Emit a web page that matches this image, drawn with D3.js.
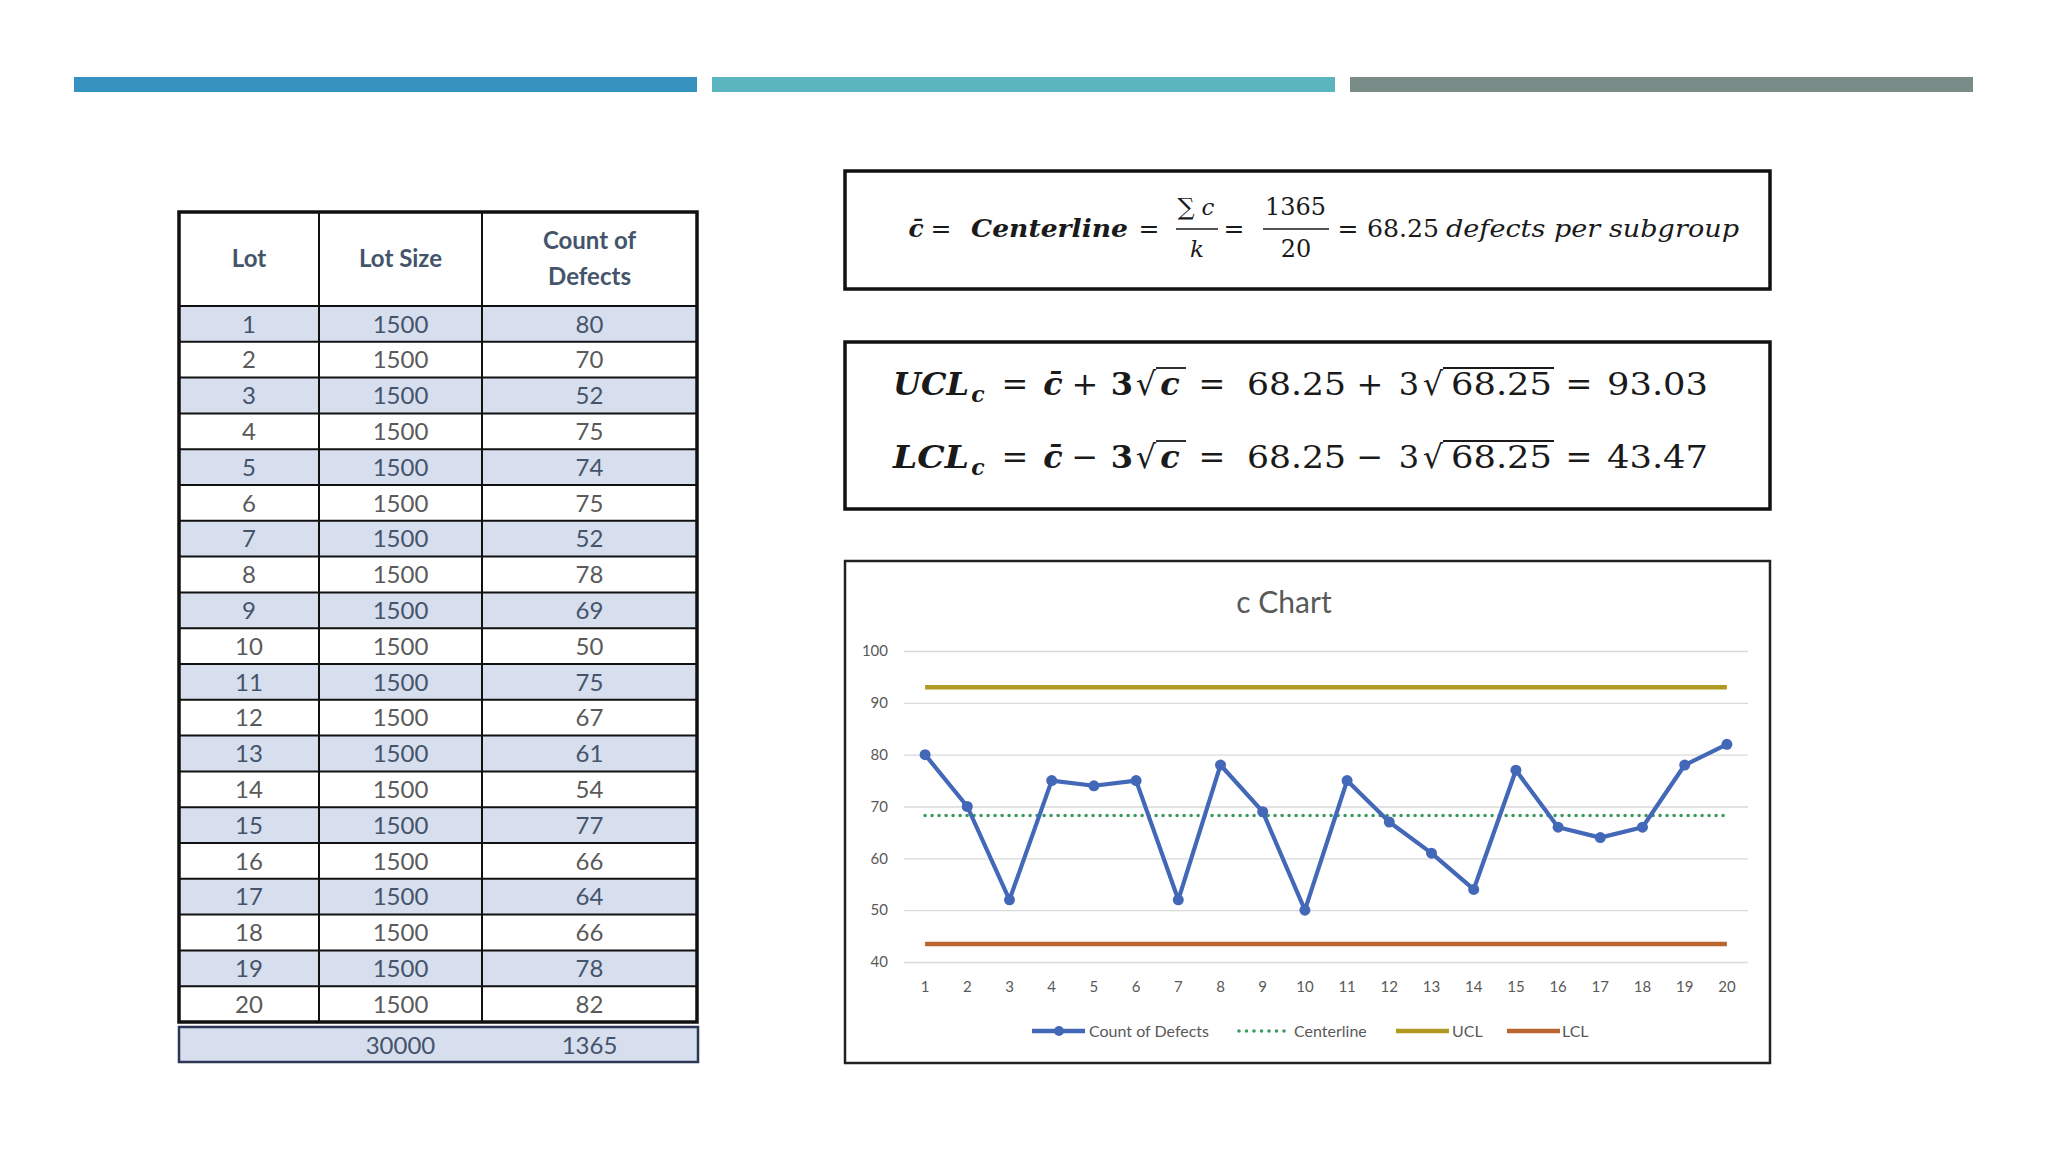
<!DOCTYPE html>
<html>
<head>
<meta charset="utf-8">
<script src="https://cdn.jsdelivr.net/npm/d3@7/dist/d3.min.js"></script>
<style>
body{margin:0;background:#fff;}
svg{display:block;}
</style>
</head>
<body>
<svg id="slide" width="2048" height="1152"></svg>
<script>
// data
var lots = [1,2,3,4,5,6,7,8,9,10,11,12,13,14,15,16,17,18,19,20];
var lotSizes = [1500,1500,1500,1500,1500,1500,1500,1500,1500,1500,1500,1500,1500,1500,1500,1500,1500,1500,1500,1500];
var defects = [80,70,52,75,74,75,52,78,69,50,75,67,61,54,77,66,64,66,78,82];
var centerline = 68.25;
var ucl = 93.03;
var lcl = 43.47;
var yTicks = [40,50,60,70,80,90,100];
var headers = [["Lot"],["Lot Size"],["Count of","Defects"]];
var seriesNames = ["Count of Defects","Centerline","UCL","LCL"];
var seriesColors = ["#4468B8","#3C9A60","#B09A22","#BA6430"];
var barColors = ["#3592BF","#5AB5BE","#7A8C88"];

var svg = d3.select("#slide");
var mathFont = "'DejaVu Serif', serif";
var uiFont = "Lato, 'Open Sans', sans-serif";

// header stripes
var stripeX = d3.scaleBand().domain([0,1,2]).range([74,1973]).paddingInner(0.0235);
svg.selectAll("rect.stripe")
	.data(barColors)
	.enter().append("rect")
		.attr("class","stripe")
		.attr("x",function(d,i){return stripeX(i);})
		.attr("y",77)
		.attr("width",stripeX.bandwidth())
		.attr("height",15)
		.attr("fill",function(d){return d;});

// ---------- table ----------
var colEdges = [179,319,482,697];
var colMid = function(i){return (colEdges[i]+colEdges[i+1])/2;};
var rowY = d3.scaleBand().domain(lots).range([306,1022]);
var table = svg.append("g");

table.append("rect")
	.attr("x",179).attr("y",212).attr("width",518).attr("height",94)
	.attr("fill","#fff");

table.selectAll("rect.row")
	.data(lots)
	.enter().append("rect")
		.attr("class","row")
		.attr("x",179)
		.attr("y",function(d){return rowY(d);})
		.attr("width",518)
		.attr("height",rowY.bandwidth())
		.attr("fill",function(d,i){return i%2==0 ? "#D7DEEE" : "#fff";});

headers.forEach(function(h,i){
	h.forEach(function(line,j){
		table.append("text")
			.attr("x",colMid(i))
			.attr("y",259 + (j - (h.length-1)/2)*36)
			.attr("dy","0.35em")
			.attr("text-anchor","middle")
			.attr("font-family",uiFont)
			.attr("font-weight","bold")
			.attr("font-size","24px")
			.attr("fill","#44546A")
			.text(line);
	});
});

var cols = [lots, lotSizes, defects];
cols.forEach(function(col,c){
	table.selectAll("text.c"+c)
		.data(col)
		.enter().append("text")
			.attr("class","c"+c)
			.attr("x",colMid(c))
			.attr("y",function(d,i){return rowY(lots[i])+rowY.bandwidth()/2;})
			.attr("dy","0.36em")
			.attr("text-anchor","middle")
			.attr("font-family",uiFont)
			.attr("font-size","24px")
			.attr("fill",function(d,i){return i%2==0 ? "#44546A" : "#5A5A5A";})
			.text(function(d){return d;});
});

// grid lines of the table
var hLines = [306].concat(lots.map(function(d){return rowY(d)+rowY.bandwidth();}));
table.selectAll("line.h")
	.data(hLines)
	.enter().append("line")
		.attr("x1",179).attr("x2",697)
		.attr("y1",function(d){return d;}).attr("y2",function(d){return d;})
		.attr("stroke","#111").attr("stroke-width",2);
table.selectAll("line.v")
	.data([319,482])
	.enter().append("line")
		.attr("x1",function(d){return d;}).attr("x2",function(d){return d;})
		.attr("y1",212).attr("y2",1022)
		.attr("stroke","#111").attr("stroke-width",2);
table.append("rect")
	.attr("x",179).attr("y",212).attr("width",518).attr("height",810)
	.attr("fill","none").attr("stroke","#111").attr("stroke-width",3.5);

// totals row
var totalSize = d3.sum(lotSizes);
var totalDefects = d3.sum(defects);
table.append("rect")
	.attr("x",179).attr("y",1027).attr("width",519).attr("height",35)
	.attr("fill","#D7DEEE").attr("stroke","#2C3656").attr("stroke-width",2.5);
[["",0],[totalSize,1],[totalDefects,2]].forEach(function(t){
	table.append("text")
		.attr("x",colMid(t[1]))
		.attr("y",1045)
		.attr("dy","0.36em")
		.attr("text-anchor","middle")
		.attr("font-family",uiFont)
		.attr("font-size","24px")
		.attr("fill","#44546A")
		.text(t[0]);
});

// ---------- formula boxes ----------
function box(y,h){
	svg.append("rect")
		.attr("x",845).attr("y",y).attr("width",925).attr("height",h)
		.attr("fill","#fff").attr("stroke","#111").attr("stroke-width",3.5);
}
box(171,118);
box(342,167);

function piece(p){
	var t = svg.append("text")
		.attr("x",p.x).attr("y",p.y)
		.attr("font-family",mathFont)
		.attr("font-size",p.s+"px")
		.attr("font-weight",p.b ? "bold" : "normal")
		.attr("font-style",p.i ? "italic" : "normal")
		.attr("fill","#1a1a1a")
		.attr("text-anchor",p.w ? "start" : "middle")
		.text(p.t);
	if(p.w){
		t.attr("textLength",p.w).attr("lengthAdjust","spacingAndGlyphs");
	}
}
function rule(x1,x2,y,w){
	svg.append("line")
		.attr("x1",x1).attr("x2",x2).attr("y1",y).attr("y2",y)
		.attr("stroke","#1a1a1a").attr("stroke-width",w);
}

// centerline formula
[
	{t:"c\u0304",x:916,y:237,s:25,b:1,i:1},
	{t:"=",x:941,y:237,s:25},
	{t:"Centerline",x:971,y:237,s:25,b:1,i:1,w:157},
	{t:"=",x:1149,y:237,s:25},
	{t:"\u2211",x:1186,y:215,s:24},
	{t:"c",x:1208,y:215,s:23,i:1},
	{t:"k",x:1197,y:257,s:23,i:1},
	{t:"=",x:1234,y:237,s:25},
	{t:"1365",x:1265,y:215,s:24,w:61},
	{t:"20",x:1296,y:257,s:24},
	{t:"=",x:1348,y:237,s:25},
	{t:"68.25",x:1367,y:237,s:25,w:72},
	{t:"defects per subgroup",x:1446,y:237,s:25,i:1,w:293}
].forEach(piece);
rule(1176,1218,229,1.6);
rule(1263,1329,229,1.6);

// control limit formulas
[[395,"UCL","+","93.03",368],[468,"LCL","\u2212","43.47",441]].forEach(function(r){
	var yb = r[0];
	[
		{t:r[1],x:893,y:yb,s:32,b:1,i:1,w:76},
		{t:"c",x:978,y:yb+7,s:22,b:1,i:1},
		{t:"=",x:1015,y:yb,s:32},
		{t:"c\u0304",x:1053,y:yb,s:32,b:1,i:1},
		{t:r[2],x:1085,y:yb,s:32},
		{t:"3",x:1122,y:yb,s:32,b:1},
		{t:"\u221A",x:1146,y:yb,s:32},
		{t:"c",x:1170,y:yb,s:32,b:1,i:1},
		{t:"=",x:1212,y:yb,s:32},
		{t:"68.25",x:1247,y:yb,s:32,w:99},
		{t:r[2],x:1370,y:yb,s:32},
		{t:"3",x:1409,y:yb,s:32},
		{t:"\u221A",x:1433,y:yb,s:32},
		{t:"68.25",x:1451,y:yb,s:32,w:101},
		{t:"=",x:1579,y:yb,s:32},
		{t:r[3],x:1607,y:yb,s:32,w:101}
	].forEach(piece);
	rule(1443,1554,r[4],1.8);
	rule(1156,1186,r[4],1.8);
});

// ---------- c chart ----------
svg.append("rect")
	.attr("x",845).attr("y",561).attr("width",925).attr("height",502)
	.attr("fill","#fff").attr("stroke","#222").attr("stroke-width",2.5);

var x = d3.scaleBand().domain(lots).range([904,1748]);
var y = d3.scaleLinear().domain([40,100]).range([962,651]);
var cx = function(d){return x(d)+x.bandwidth()/2;};

svg.append("text")
	.attr("x",1284).attr("y",613)
	.attr("text-anchor","middle")
	.attr("font-family",uiFont)
	.attr("font-size","30px")
	.attr("fill","#595959")
	.text("c Chart");

var grid = svg.append("g")
	.attr("transform","translate(904,0)")
	.call(d3.axisLeft(y).tickValues(yTicks).tickSize(-844).tickFormat(""));
grid.select(".domain").remove();
grid.selectAll("line").attr("stroke","#D9D9D9").attr("stroke-width",1.3);

var yAxis = svg.append("g")
	.attr("transform","translate(904,0)")
	.call(d3.axisLeft(y).tickValues(yTicks).tickSize(0).tickPadding(16));
yAxis.select(".domain").remove();
yAxis.selectAll("text").attr("font-family",uiFont).attr("font-size","15px").attr("fill","#595959");

var xAxis = svg.append("g")
	.attr("transform","translate(0,962)")
	.call(d3.axisBottom(x).tickSize(0).tickPadding(19));
xAxis.select(".domain").remove();
xAxis.selectAll("text").attr("font-family",uiFont).attr("font-size","15px").attr("fill","#595959");

var ends = [lots[0], lots[lots.length-1]];
function flat(v){
	return d3.line().x(function(d){return cx(d);}).y(function(){return y(v);})(ends);
}
svg.append("path").attr("d",flat(ucl))
	.attr("fill","none").attr("stroke",seriesColors[2]).attr("stroke-width",4.5);
svg.append("path").attr("d",flat(lcl))
	.attr("fill","none").attr("stroke",seriesColors[3]).attr("stroke-width",4.5);
svg.append("path").attr("d",flat(centerline))
	.attr("fill","none").attr("stroke",seriesColors[1]).attr("stroke-width",3.6)
	.attr("stroke-linecap","round").attr("stroke-dasharray","0 7");

var line = d3.line()
	.x(function(d,i){return cx(lots[i]);})
	.y(function(d){return y(d);});
svg.append("path")
	.attr("d",line(defects))
	.attr("fill","none")
	.attr("stroke",seriesColors[0])
	.attr("stroke-width",4.2)
	.attr("stroke-linejoin","round");
svg.selectAll("circle.pt")
	.data(defects)
	.enter().append("circle")
		.attr("class","pt")
		.attr("cx",function(d,i){return cx(lots[i]);})
		.attr("cy",function(d){return y(d);})
		.attr("r",5.5)
		.attr("fill",seriesColors[0]);

// legend
var legendPos = [[1032,1089],[1239,1294],[1396,1452],[1507,1562]];
var legend = svg.append("g");
seriesNames.forEach(function(name,i){
	var p = legendPos[i];
	var l = legend.append("line")
		.attr("x1",p[0]).attr("x2",p[0]+(i==1?46:53))
		.attr("y1",1031).attr("y2",1031)
		.attr("stroke",seriesColors[i]);
	if(i==1){
		l.attr("stroke-width",3.6).attr("stroke-linecap","round").attr("stroke-dasharray","0 7.5");
	}else{
		l.attr("stroke-width",4.5);
	}
	if(i==0){
		legend.append("circle").attr("cx",p[0]+27).attr("cy",1031).attr("r",5).attr("fill",seriesColors[0]);
	}
	legend.append("text")
		.attr("x",p[1]).attr("y",1031)
		.attr("dy","0.35em")
		.attr("font-family",uiFont)
		.attr("font-size","16px")
		.attr("fill","#595959")
		.text(name);
});
</script>
</body>
</html>
